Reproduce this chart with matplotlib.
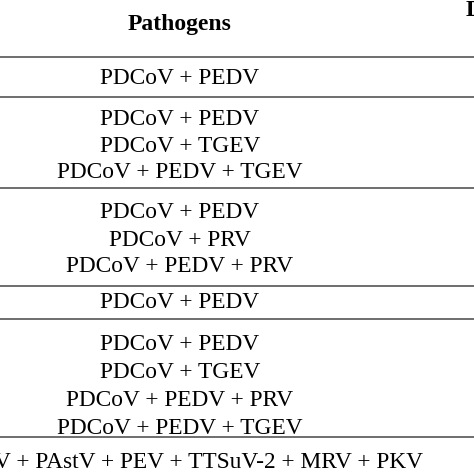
import matplotlib
matplotlib.use("Agg")
import matplotlib.pyplot as plt

header = "Pathogens"
groups = [
    ["PDCoV + PEDV"],
    ["PDCoV + PEDV", "PDCoV + TGEV", "PDCoV + PEDV + TGEV"],
    ["PDCoV + PEDV", "PDCoV + PRV", "PDCoV + PEDV + PRV"],
    ["PDCoV + PEDV"],
    ["PDCoV + PEDV", "PDCoV + TGEV", "PDCoV + PEDV + PRV", "PDCoV + PEDV + TGEV"],
    ["PDCoV + PAstV + PEV + TTSuV-2 + MRV + PKV"],
]
row_y = [[78], [119, 146, 173], [212, 240, 267], [303], [345, 373, 401, 429], [463]]
rules = [57, 97, 188, 286, 319, 437]

fig = plt.figure(figsize=(4.74, 4.74), dpi=100)
ax = fig.add_axes([0, 0, 1, 1])
ax.set_xlim(0, 474)
ax.set_ylim(474, 0)
ax.axis("off")
fam = ["Liberation Serif", "DejaVu Serif"]
ax.text(180, 24, header, ha="center", va="center", fontsize=17, fontweight="bold", family=fam)
ax.text(466, 10, "D", ha="left", va="center", fontsize=17, fontweight="bold", family=fam)
for g, ys in zip(groups, row_y):
    for t, y in zip(g, ys):
        ax.text(180, y, t, ha="center", va="center", fontsize=16.8, family=fam)
for r in rules:
    ax.axhline(r, color="#555555", lw=1.2)
fig.savefig("out.png", dpi=100)
